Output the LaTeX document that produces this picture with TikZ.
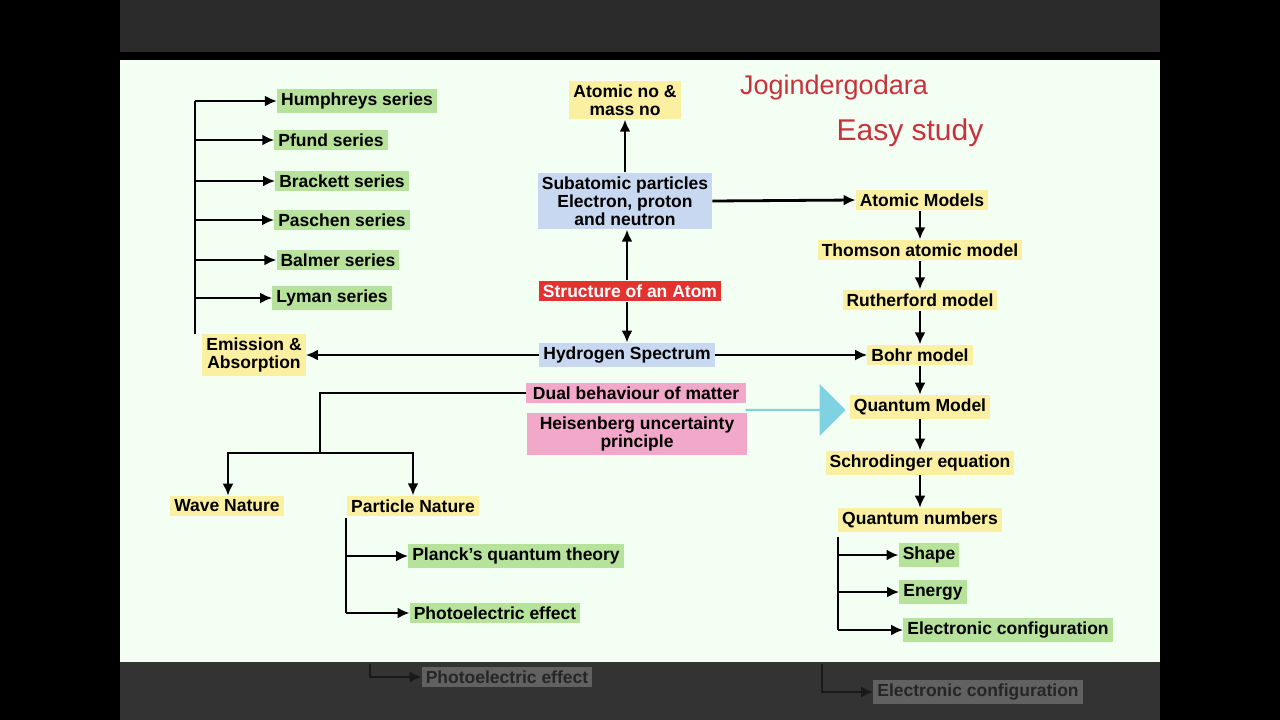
\documentclass[tikz,border=0pt]{standalone}
\usepackage{fontspec}
\setmainfont{Liberation Sans}
\usetikzlibrary{arrows.meta,shapes.arrows}
\definecolor{grn}{HTML}{B6E29C}
\definecolor{ylw}{HTML}{FBF0A2}
\definecolor{blu}{HTML}{C8D8F0}
\definecolor{rd}{HTML}{E5322F}
\definecolor{pnk}{HTML}{F2A8C9}
\definecolor{cyn}{HTML}{7FD2E2}
\definecolor{ttl}{HTML}{C8323C}
\tikzset{
  box/.style={inner sep=4pt, font=\fontsize{17.5}{18}\selectfont\bfseries, align=center},
  gbox/.style={box, fill=grn},
  ybox/.style={box, fill=ylw},
  bbox/.style={box, fill=blu},
  pbox/.style={box, fill=pnk},
  arr/.style={-{Latex[length=12pt,width=11pt]}, line width=2.8pt},
  ln/.style={line width=2.8pt}
}
\begin{document}
\begin{tikzpicture}[x=1pt,y=-1pt]
\fill[black] (0,0) rectangle (1280,720);
\fill[black!83] (120,0) rectangle (1160,52);
\fill[black!80] (120,662) rectangle (1160,720);
\fill[white!95!green] (120,60) rectangle (1160,662);
\useasboundingbox (0,0) rectangle (1280,720);

% left series
\node[gbox] (hum) at (357,101) {Humphreys series};
\node[gbox] (pfu) at (331,140) {Pfund series};
\node[gbox] (bra) at (342,181) {Brackett series};
\node[gbox] (pas) at (342,220) {Paschen series};
\node[gbox] (bal) at (338,260) {Balmer series};
\node[gbox] (lym) at (332,298) {Lyman series};
\node[ybox] (emi) at (254,355) {Emission \&\\Absorption};
\coordinate (top) at (195,101);
\draw[ln] (195,334) -- (top);
\foreach \n/\y in {hum/101,pfu/140,bra/181,pas/220,bal/260,lym/298}
  \draw[arr] (195,\y) -- (\n.west);

% centre
\node[ybox] (ato) at (625,100) {Atomic no \&\\mass no};
\node[bbox] (sub) at (625,201) {Subatomic particles\\Electron, proton\\and neutron};
\node[box, fill=rd, text=white] (str) at (630,291) {Structure of an Atom};
\node[bbox] (hyd) at (627,355) {Hydrogen Spectrum};
\node[pbox, minimum width=220pt] (dua) at (636,393) {Dual behaviour of matter};
\node[pbox, minimum width=220pt] (hei) at (637,434) {Heisenberg uncertainty\\principle};
\draw[arr] (str.north -| 627,0) -- (sub.south -| 627,0);
\draw[arr] (sub.north) -- (ato.south);
\draw[arr] (str.south -| 627,0) -- (hyd.north);
\draw[arr] (hyd.west) -- (emi.east);
\node[single arrow, fill=cyn, minimum height=100pt, minimum width=52pt,
  single arrow head extend=4pt, inner sep=0pt] (big) at (795,410) {};

% right chain
\node[ybox] (mod) at (922,200) {Atomic Models};
\node[ybox] (tho) at (920,250) {Thomson atomic model};
\node[ybox] (rut) at (920,300) {Rutherford model};
\node[ybox] (boh) at (920,355) {Bohr model};
\node[ybox] (qmo) at (920,407) {Quantum Model};
\node[ybox] (sch) at (920,463) {Schrodinger equation};
\node[ybox] (qnu) at (920,520) {Quantum numbers};
\draw[arr] (sub.east) -- (mod.west);
\draw[arr] (hyd.east) -- (boh.west);
\foreach \a/\b in {mod/tho,tho/rut,rut/boh,boh/qmo,qmo/sch,sch/qnu}
  \draw[arr] (\a.south -| 920,0) -- (\b.north -| 920,0);
\node[gbox] (sha) at (929,555) {Shape};
\node[gbox] (ene) at (933,592) {Energy};
\node[gbox] (ele) at (1008,630) {Electronic configuration};
\draw[ln] (838,537) -- (838,630);
\foreach \n/\y in {sha/555,ene/592,ele/630}
  \draw[arr] (838,\y) -- (\n.west);

% dual nature
\node[ybox] (wav) at (227,506) {Wave Nature};
\node[ybox] (par) at (413,506) {Particle Nature};
\coordinate (jn) at (320,453);
\draw[ln] (dua.west) -- (320,393) -- (jn);
\draw[arr] (jn) -- (228,453) -- (wav.north -| 228,0);
\draw[arr] (jn) -- (413,453) -- (par.north);
\node[gbox] (pla) at (516,556) {Planck's quantum theory};
\node[gbox] (pho) at (495,613) {Photoelectric effect};
\draw[ln] (346,518) -- (346,613);
\foreach \n/\y in {pla/556,pho/613}
  \draw[arr] (346,\y) -- (\n.west);

% titles
\node[text=ttl, font=\fontsize{27}{28}\selectfont] (jog) at (834,88) {Jogindergodara};
\node[text=ttl, font=\fontsize{30}{32}\selectfont] (eas) at (910,133) {Easy study};

% faint strip below
\node[box, fill=black!62, text=black!85] (ph2) at (507,677) {Photoelectric effect};
\node[box, fill=black!62, text=black!85] (el2) at (978,692) {Electronic configuration};
\draw[arr, black!90] (370,664) -- (370,677) -- (ph2.west);
\draw[arr, black!90] (822,664) -- (822,692) -- (el2.west);
\end{tikzpicture}
\end{document}
